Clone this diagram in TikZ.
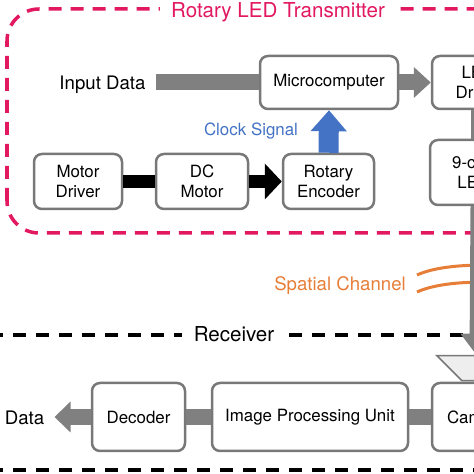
\documentclass[tikz,border=0pt]{standalone}
\usepackage{fontspec}
\setmainfont{TeX Gyre Heros}
\usepackage{tikz}
\usetikzlibrary{positioning}
\usetikzlibrary{arrows.meta}

\definecolor{TxPink}{RGB}{226,24,96}
\definecolor{WaveOrange}{RGB}{230,126,56}
\definecolor{ClockBlue}{RGB}{68,114,196}
\definecolor{BoxGray}{RGB}{120,120,120}
\definecolor{BarGray}{RGB}{128,128,128}
\definecolor{LensGray}{RGB}{238,238,238}

\newcommand{\blockfont}{\fontsize{9.6}{11.4}\selectfont}
\newcommand{\labelfont}{\fontsize{10.6}{12.6}\selectfont}
\newcommand{\titlefont}{\fontsize{11.7}{14}\selectfont}

\tikzset{
	block/.style={draw=BoxGray, line width=0.05cm, rounded corners=0.16cm, fill=white, align=center, font=\blockfont, inner sep=0pt},
	graybar/.style={draw=BarGray, line width=0.32cm},
	blackbar/.style={draw=black, line width=0.26cm},
	dashframe/.style={line width=0.07cm, dash pattern=on 0.26cm off 0.18cm},
}

\begin{document}
\begin{tikzpicture}
	
	% ---------------------
	% Frame
	\useasboundingbox (0.00cm,0.00cm) rectangle (9.48cm,9.48cm);
	\clip (0.00cm,0.00cm) rectangle (9.48cm,9.48cm);
	
	% ---------------------
	% Transmitter frame
	\draw[dashframe, draw=TxPink, rounded corners=0.64cm] (0.14cm,4.82cm) rectangle (11.00cm,9.30cm);
	\node[fill=white, text=TxPink, font=\titlefont, inner xsep=0.22cm, inner ysep=0.05cm, anchor=base] (txtitle) at (5.56cm,9.134cm) {Rotary LED Transmitter};
	
	% ---------------------
	% Receiver frame
	\draw[dashframe, draw=black, line width=0.08cm, dash pattern=on 0.25cm off 0.21cm] (-0.20cm,2.78cm) -- (11.00cm,2.78cm);
	\draw[dashframe, draw=black, line width=0.08cm, dash pattern=on 0.25cm off 0.21cm] (-0.20cm,0.08cm) -- (11.00cm,0.08cm);
	\node[fill=white, font=\titlefont, inner xsep=0.24cm, inner ysep=0.05cm, anchor=base] (rxtitle) at (4.68cm,2.646cm) {Receiver};
	
	% ---------------------
	% Transmitter blocks
	\coordinate (Micro) at (6.58cm,7.83cm);
	\node[block, minimum width=2.76cm, minimum height=1.06cm] (micro) at (Micro) {Microcomputer};
	\node[block, minimum width=1.84cm, minimum height=1.06cm, right=0.63cm of micro] (leddriver) {LED\\Driver};
	\node[block, minimum width=1.92cm, minimum height=1.30cm, below=0.57cm of leddriver] (leds) {9-color\\LEDs};
	
	\coordinate (Motor) at (1.56cm,5.85cm);
	\node[block, minimum width=1.76cm, minimum height=1.10cm] (motordrv) at (Motor) {Motor\\Driver};
	\node[block, minimum width=1.84cm, minimum height=1.10cm, right=0.63cm of motordrv] (dcmotor) {DC\\Motor};
	\node[block, minimum width=1.82cm, minimum height=1.10cm, right=0.65cm of dcmotor] (encoder) {Rotary\\Encoder};
	
	\node[font=\labelfont, anchor=base, inner xsep=0.20cm] (input) at (2.05cm,7.694cm) {Input Data};
	
	% ---------------------
	% Receiver blocks
	\coordinate (Camera) at (9.54cm,1.14cm);
	\node[block, minimum width=1.80cm, minimum height=1.36cm] (camera) at (Camera) {Camera};
	\node[block, minimum width=3.92cm, minimum height=1.36cm, left=0.43cm of camera] (ipu) {Image Processing Unit};
	\node[block, minimum width=1.86cm, minimum height=1.36cm, left=0.49cm of ipu] (decoder) {Decoder};
	
	\node[font=\labelfont, anchor=base, inner xsep=0.20cm] (output) at (0.49cm,0.994cm) {Data};
	
	% ---------------------
	% Lens
	\path (camera.north) +(-0.30cm,0.02cm) coordinate (LensBL);
	\path (camera.north) +(+0.30cm,0.02cm) coordinate (LensBR);
	\path (camera.north) +(-0.80cm,0.52cm) coordinate (LensTL);
	\path (camera.north) +(+0.80cm,0.52cm) coordinate (LensTR);
	\path (camera.north) +(0.00cm,0.52cm) coordinate (LensTop);
	\filldraw[fill=LensGray, draw=BoxGray, line width=0.03cm] (LensBL) -- (LensTL) -- (LensTR) -- (LensBR) -- cycle;
	
	% ---------------------
	% Spatial channel
	\node[text=WaveOrange, font=\labelfont, anchor=base] (spatial) at (6.80cm,3.666cm) {Spatial Channel};
	\coordinate (WaveA) at (8.34cm,3.98cm);
	\coordinate (WaveB) at (10.78cm,3.98cm);
	\coordinate (WaveC) at (8.34cm,3.64cm);
	\coordinate (WaveD) at (10.78cm,3.64cm);
	\draw[WaveOrange, line width=0.06cm] (WaveA) .. controls +(0.56cm,0.26cm) and +(-0.56cm,0.26cm) .. (WaveB);
	\draw[WaveOrange, line width=0.06cm] (WaveC) .. controls +(0.56cm,0.26cm) and +(-0.56cm,0.26cm) .. (WaveD);
	
	% ---------------------
	% Connectors
	\draw[graybar] (input.east |- micro) -- (micro.west);
	\draw[graybar, -{Triangle[width=0.60cm,length=0.34cm]}] (micro.east) -- (leddriver.west);
	\draw[graybar, line width=0.30cm] (leddriver.south) -- (leds.north);
	\draw[graybar, line width=0.30cm, -{Triangle[width=0.64cm,length=0.44cm]}] (leds.south) -- (LensTop);
	
	\draw[blackbar] (motordrv.east) -- (dcmotor.west);
	\draw[blackbar, -{Triangle[width=0.70cm,length=0.34cm]}] (dcmotor.east) -- (encoder.west);
	\draw[ClockBlue, line width=0.40cm, -{Triangle[width=0.70cm,length=0.42cm]}] (encoder.north) -- (micro.south) node[midway, left=0.30cm, text=ClockBlue, font=\blockfont] (clock) {Clock Signal};
	
	\draw[graybar] (ipu.east) -- (camera.west);
	\draw[graybar] (decoder.east) -- (ipu.west);
	\draw[graybar, -{Triangle[width=0.60cm,length=0.32cm]}] (decoder.west) -- (output.east |- decoder);
	
\end{tikzpicture}
\end{document}
